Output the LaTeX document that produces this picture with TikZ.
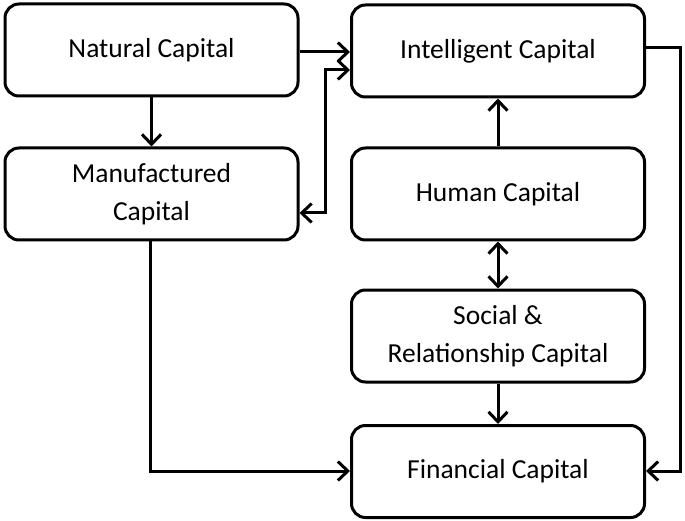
\documentclass[tikz,border=0pt]{standalone}
\usepackage{fontspec}
\setmainfont{Carlito}
\usetikzlibrary{arrows.meta}
\begin{document}
\begin{tikzpicture}[x=1pt,y=-1pt,
  box/.style={draw,line width=3pt,rounded corners=14pt,minimum width=293pt,minimum height=92pt,align=center,font=\fontsize{27.5}{38}\selectfont,inner sep=0pt},
  ar/.style={line width=3pt,-{Straight Barb[length=10pt,width=19pt]}},
  dar/.style={line width=3pt,{Straight Barb[length=10pt,width=19pt]}-{Straight Barb[length=10pt,width=19pt]}}]
\useasboundingbox (0,0) rectangle (685,521);
\node[box] (nat) at (151.5,50) {Natural Capital};
\node[box] (int) at (498,51) {Intelligent Capital};
\node[box] (man) at (151.5,194) {Manufactured\\Capital};
\node[box] (hum) at (498,194) {Human Capital};
\node[box] (soc) at (498,336) {Social \&\\Relationship Capital};
\node[box] (fin) at (498,471.5) {Financial Capital};
\coordinate (a1) at (325,70);
\coordinate (a2) at (325,213);
\coordinate (f1) at (150,471);
\coordinate (r1) at (680,48);
\coordinate (r2) at (680,471);
\draw[ar] (nat.east |- 0,52) -- (int.west |- 0,52);
\draw[dar] (int.west |- a1) -- (a1) -- (a2) -- (man.east |- a2);
\draw[ar] (nat) -- (man);
\draw[ar] (hum) -- (int);
\draw[dar] (hum) -- (soc);
\draw[ar] (soc) -- (fin);
\draw[ar] (man.south -| f1) -- (f1) -- (fin.west |- f1);
\draw[ar] (int.east |- r1) -- (r1) -- (r2) -- (fin.east |- r2);
\end{tikzpicture}
\end{document}
